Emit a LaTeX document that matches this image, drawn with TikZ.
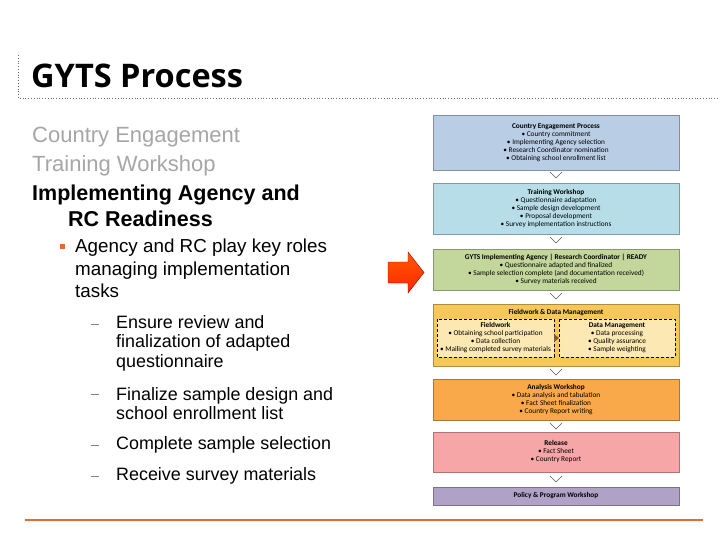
\documentclass[tikz,border=0pt]{standalone}
\usepackage{fontspec}
\setmainfont{Liberation Sans}
\newfontfamily\titlefont{Open Sans}
\newfontfamily\boxfont{Carlito}
\definecolor{cblue}{HTML}{B9CDE5}
\definecolor{clblue}{HTML}{B7DEE8}
\definecolor{cgreen}{HTML}{C3D69B}
\definecolor{cyel}{HTML}{F6C85A}
\definecolor{cyelin}{HTML}{FCE8B3}
\definecolor{corange}{HTML}{F9A94A}
\definecolor{cpink}{HTML}{F6A6A6}
\definecolor{cpurple}{HTML}{B0A1C7}
\definecolor{cline}{HTML}{E46C2D}
\definecolor{cgray}{HTML}{A6A6A6}
\tikzset{
  flow/.style={draw=#1!70!black, line width=0.6pt, fill=#1},
  btxt/.style={font=\boxfont\fontsize{7.3}{8}\selectfont, align=center, inner sep=0pt},
  ltxt/.style={anchor=west, inner sep=0pt, font=\fontsize{22}{23}\selectfont},
  dtxt/.style={anchor=west, inner sep=0pt, font=\fontsize{17.9}{19}\selectfont, align=left},
  chev/.style={draw=gray!70!black, line width=0.6pt}
}
\begin{document}
\begin{tikzpicture}[x=1pt,y=-1pt]
\useasboundingbox (0,0) rectangle (720,540);
\fill[white] (0,0) rectangle (720,540);
% title
\draw[dotted, gray!80!black, line width=0.8pt] (18,55) -- (18,98) -- (720,98);
\node[anchor=base west, inner sep=0pt, font=\titlefont\bfseries\fontsize{32.5}{36}\selectfont] (title) at (31,88) {GYTS Process};
% left text
\node[ltxt, text=cgray] (l1) at (32,137) {Country Engagement};
\node[ltxt, text=cgray] (l2) at (32,166) {Training Workshop};
\node[ltxt, font=\bfseries\fontsize{21.5}{23}\selectfont] (l3) at (32,195) {Implementing Agency and};
\node[ltxt, font=\bfseries\fontsize{21.5}{23}\selectfont] (l4) at (68,219) {RC Readiness};
\fill[cline] (59.5,243.5) rectangle (64.5,248.5);
\node[dtxt, font=\fontsize{18.8}{22.5}\selectfont] (b1) at (75,268.5) {Agency and RC play key roles\\managing implementation\\tasks};
\foreach \y in {324,394,445,476} \draw[gray] (91,\y) -- (99,\y);
\node[dtxt, font=\fontsize{17.9}{19.5}\selectfont] (d1) at (116,343) {Ensure review and\\finalization of adapted\\questionnaire};
\node[dtxt, font=\fontsize{17.9}{19.5}\selectfont] (d2) at (116,403.5) {Finalize sample design and\\school enrollment list};
\node[dtxt] (d3) at (116,445) {Complete sample selection};
\node[dtxt] (d4) at (116,476) {Receive survey materials};
% arrow
\shade[top color=orange!70!red, bottom color=red!70!orange, draw=red!60!black, line width=0.4pt]
  (388,262) -- (408,262) -- (408,252) -- (424,272.5) -- (408,293) -- (408,283) -- (388,283) -- cycle;
\coordinate (arr) at (424,272.5);
% flow boxes
\draw[flow=cblue] (433,115) rectangle (679,170);
\node[btxt] (f1) at (556,142.5) {\textbf{Country Engagement Process}\\• Country commitment\\• Implementing Agency selection\\• Research Coordinator nomination\\• Obtaining school enrollment list};
\draw[flow=clblue] (433,183) rectangle (679,234);
\node[btxt] (f2) at (556,208.5) {\textbf{Training Workshop}\\• Questionnaire adaptation\\• Sample design development\\• Proposal development\\• Survey implementation instructions};
\draw[flow=cgreen] (433,249) rectangle (679,290);
\node[btxt] (f3) at (556,269.5) {\textbf{GYTS Implementing Agency | Research Coordinator | READY}\\• Questionnaire adapted and finalized\\• Sample selection complete (and documentation received)\\• Survey materials received};
\draw[flow=cyel] (433,304) rectangle (679,366);
\node[btxt] (f4) at (556,312.5) {\textbf{Fieldwork \& Data Management}};
\draw[densely dashed, fill=cyelin, line width=0.6pt] (437,319) rectangle (554,357);
\draw[densely dashed, fill=cyelin, line width=0.6pt] (559,319) rectangle (675,357);
\node[btxt] (f4a) at (495.5,338) {\textbf{Fieldwork}\\• Obtaining school participation\\• Data collection\\• Mailing completed survey materials};
\node[btxt] (f4b) at (617,338) {\textbf{Data Management}\\• Data processing\\• Quality assurance\\• Sample weighting};
\fill[brown!70!black] (554,334) -- (559,338) -- (554,342) -- cycle;
\draw[flow=corange] (433,379) rectangle (679,420);
\node[btxt] (f5) at (556,399.5) {\textbf{Analysis Workshop}\\• Data analysis and tabulation\\• Fact Sheet finalization\\• Country Report writing};
\draw[flow=cpink] (433,432) rectangle (679,472);
\node[btxt] (f6) at (556,452) {\textbf{Release}\\• Fact Sheet\\• Country Report};
\draw[flow=cpurple] (433,487) rectangle (679,505);
\node[btxt] (f7) at (556,496) {\textbf{Policy \& Program Workshop}};
% chevrons
\foreach \y in {172,237,293,369,423,476}
  \draw[chev] (550,\y) -- (556,\y+6) -- (562,\y);
% bottom line
\draw[cline, line width=2.5pt] (25,520) -- (703,520);
\end{tikzpicture}
\end{document}
